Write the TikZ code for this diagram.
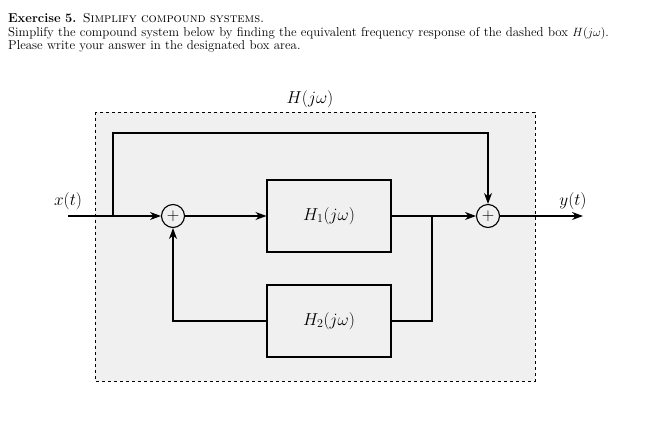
\documentclass[tikz,border=0pt]{standalone}
\usetikzlibrary{arrows.meta}
\begin{document}
\begin{tikzpicture}[x=1pt,y=-1pt,
  blk/.style={draw,line width=1.1pt,minimum width=124pt,minimum height=72pt,font=\fontsize{17}{20}\selectfont},
  sum/.style={draw,line width=1.1pt,circle,minimum size=23pt,inner sep=0pt,font=\fontsize{19}{20}\selectfont},
  arr/.style={line width=1.1pt,-{Stealth[length=11pt,width=8pt]}},
  ln/.style={line width=1.1pt},
  lbl/.style={font=\fontsize{17}{20}\selectfont}]
\useasboundingbox (0,0) rectangle (656,446);
\node[anchor=west,font=\fontsize{12.9}{13.5}\selectfont,align=left,text width=645pt,inner sep=0pt] (txt) at (8,33)
 {\textbf{Exercise 5.} \textsc{Simplify compound systems.}\\
 Simplify the compound system below by finding the equivalent frequency response of the dashed box $H(j\omega)$.\\
 Please write your answer in the designated box area.};
\draw[dashed,line width=0.9pt,fill=black!6] (95,112) rectangle (535,381);
\node[lbl] (H) at (310,99) {$H(j\omega)$};
\node[lbl] (x) at (68,201) {$x(t)$};
\node[lbl] (y) at (573,201) {$y(t)$};
\node[sum] (s1) at (173,216) {$+$};
\node[sum] (s2) at (488,216) {$+$};
\node[blk] (h1) at (329,216) {$H_1(j\omega)$};
\node[blk] (h2) at (329,321) {$H_2(j\omega)$};
\coordinate (in) at (68,216);
\coordinate (b1) at (113,216);
\coordinate (b2) at (432,216);
\coordinate (out) at (583,216);
\draw[arr] (in) -- (s1);
\draw[arr] (b1) -- (113,133) -| (s2);
\draw[arr] (s1) -- (h1);
\draw[arr] (h1) -- (s2);
\draw[ln] (b2) |- (h2.east);
\draw[arr] (h2.west) -| (s1);
\draw[arr] (s2) -- (out);
\end{tikzpicture}
\end{document}
